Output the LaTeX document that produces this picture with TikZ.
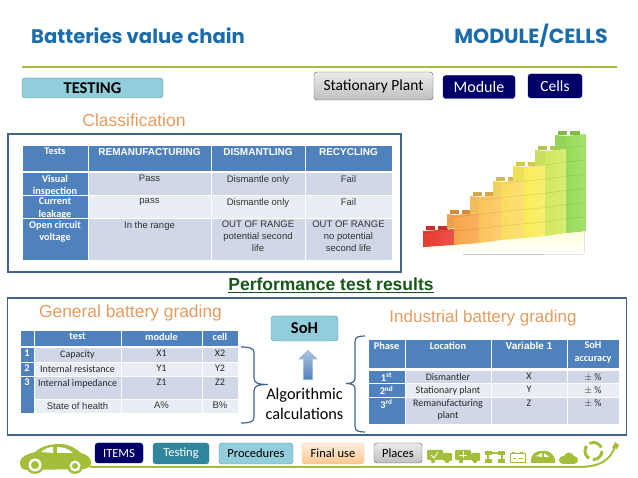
\documentclass[tikz,border=0pt]{standalone}
\usepackage{fontspec}
\setmainfont{Carlito}
\newfontfamily\arialfont{Liberation Sans}
\newfontfamily\titlefont{Poppins}
\usetikzlibrary{shadows, shapes.arrows, positioning}
\definecolor{titleblue}{HTML}{1B6CAB}
\definecolor{limeline}{HTML}{A3BF39}
\definecolor{paleteal}{HTML}{92CDDC}
\definecolor{navybtn}{HTML}{000066}
\definecolor{tealbtn}{HTML}{31859C}
\definecolor{hdblue}{HTML}{4F81BD}
\definecolor{rowdark}{HTML}{D0D8E8}
\definecolor{rowlight}{HTML}{E9EDF4}
\definecolor{framecol}{HTML}{41648F}
\definecolor{headorange}{HTML}{E59B5E}
\definecolor{darkgreen}{HTML}{17561A}
\definecolor{brickA}{HTML}{E8382E}
\definecolor{brickB}{HTML}{F8A546}
\definecolor{brickC}{HTML}{FBC458}
\definecolor{brickD}{HTML}{FBDB5E}
\definecolor{brickE}{HTML}{F9EC58}
\definecolor{brickF}{HTML}{D2E85E}
\definecolor{brickG}{HTML}{96DC56}
\tikzset{
    button/.style = {rounded corners=3pt, inner sep=0pt, font=\fontsize{14}{16}\selectfont},
    navy button/.style = {button, fill=navybtn, draw=navybtn!70!blue, text=white},
    teal button/.style = {button, fill=paleteal, draw=framecol!60!paleteal},
    gray button/.style = {button, top color=white!92!black, bottom color=black!25, draw=black!65},
    frame box/.style = {draw=framecol, line width=1.6pt, inner sep=0pt},
    grading/.style = {text=headorange, font=\arialfont\fontsize{17.4}{20}\selectfont},
    tablecell/.style = {inner sep=0pt, outer sep=0pt},
    celltext/.style = {anchor=north, inner sep=1.5pt, align=center},
    hdrfill/.style = {fill=hdblue},
    rowa/.style = {fill=rowdark},
    rowb/.style = {fill=rowlight},
    hdrarial/.style = {text=white, font=\arialfont\bfseries\fontsize{10}{12}\selectfont},
    bodyarial/.style = {text=black!80, font=\arialfont\fontsize{9.5}{11.7}\selectfont},
    hdrcal/.style = {text=white, font=\bfseries\fontsize{10.3}{12.2}\selectfont},
    bodycal/.style = {text=black!85, font=\fontsize{10}{12}\selectfont},
    brace line/.style = {draw=framecol, line width=1.2pt},
    icon/.style = {fill=limeline, draw=none},
}
% one table cell: name, x0, y0, x1, y1, fill, text style, text
\newcommand{\tcell}[8]{
    \node[tablecell,#6,minimum width={(#4-#2-1)*1pt},minimum height={(#5-#3-1)*1pt}] (#1) at ({(#2+#4)/2},{(#3+#5)/2}) {};
    \node[celltext,#7] at (#1.north) {#8};
}
\begin{document}
\begin{tikzpicture}[x=1pt, y=-1pt]
    \useasboundingbox (0,0) rectangle (638,478);

    % header
    \node (title) [text=titleblue, font=\titlefont\bfseries\fontsize{19.6}{24}\selectfont] at (138,36) {Batteries value chain};
    \node (part) [text=titleblue, font=\titlefont\bfseries\fontsize{20.5}{24}\selectfont] at (531,36) {MODULE/CELLS};
    \coordinate (ruleL) at (22,67);
    \coordinate (ruleR) at (617,67);
    \draw[limeline, line width=2pt] (ruleL) -- (ruleR);

    \node (testing) [teal button, minimum width=141pt, minimum height=20pt, font=\bfseries\fontsize{16.5}{18}\selectfont] at (92.5,88) {TESTING};
    \node (plant) [gray button, minimum width=119pt, minimum height=28pt, font=\fontsize{15.5}{18}\selectfont] at (373.5,86) {Stationary Plant};
    \node (module) [navy button, minimum width=72pt, minimum height=23pt, font=\fontsize{16}{18}\selectfont] at (479,87) {Module};
    \node (cells) [navy button, minimum width=54pt, minimum height=24pt, font=\fontsize{15.5}{18}\selectfont] at (555,86) {Cells};

    % classification
    \node (classif) [grading, font=\arialfont\fontsize{17.5}{20}\selectfont] at (134,120) {Classification};
    \node (box1) [frame box, minimum width=393pt, minimum height=138pt] at (204.5,203) {};
    \tcell{a00}{22}{146}{88}{172}{hdrfill}{hdrcal}{Tests}
    \tcell{a01}{88}{146}{211}{172}{hdrfill}{hdrarial}{REMANUFACTURING}
    \tcell{a02}{211}{146}{305}{172}{hdrfill}{hdrarial}{DISMANTLING}
    \tcell{a03}{305}{146}{392}{172}{hdrfill}{hdrarial}{RECYCLING}
    \tcell{a10}{22}{173}{88}{196}{hdrfill}{hdrcal}{Visual\\inspection}
    \tcell{a11}{88}{173}{211}{196}{rowa}{bodyarial}{Pass}
    \tcell{a12}{211}{173}{305}{196}{rowa}{bodyarial}{Dismantle only}
    \tcell{a13}{305}{173}{392}{196}{rowa}{bodyarial}{Fail}
    \tcell{a20}{22}{196}{88}{219}{hdrfill}{hdrcal}{Current\\leakage}
    \tcell{a21}{88}{196}{211}{219}{rowb}{bodyarial}{pass}
    \tcell{a22}{211}{196}{305}{219}{rowb}{bodyarial}{Dismantle only}
    \tcell{a23}{305}{196}{392}{219}{rowb}{bodyarial}{Fail}
    \tcell{a30}{22}{219}{88}{261}{hdrfill}{hdrcal}{Open circuit\\voltage}
    \tcell{a31}{88}{219}{211}{261}{rowa}{bodyarial}{In the range}
    \tcell{a32}{211}{219}{305}{261}{rowa}{bodyarial}{OUT OF RANGE\\potential second\\life}
    \tcell{a33}{305}{219}{392}{261}{rowa}{bodyarial}{OUT OF RANGE\\no potential\\second life}

    % stacked bricks
    \fill[top color=yellow!14, bottom color=white] (423,247) -- (584,231) -- (584,254) -- (423,255) -- cycle;
    \foreach \xl/\xm/\xr/\ytop/\yl/\yr/\clr/\yprev in {
        423/423/454/229/247/245/brickA/229,
        447/454/479/213/245/243/brickB/226,
        470/479/501/195/243/240/brickC/211,
        493/501/524/180/240/238/brickD/193,
        513/524/545/165/238/236/brickE/178,
        535/545/566/149/236/233/brickF/163,
        555/566/586/134/233/231/brickG/147}{
        \fill[\clr!90!gray] (\xl,\ytop+1) -- (\xm,\ytop+2) -- (\xm,\yprev+2) -- (\xl,\yprev+3) -- cycle;
        \begin{scope}
            \clip (\xm,\ytop+2) -- (\xr,\ytop) -- (\xr,\yr) -- (\xm,\yl) -- cycle;
            \shade[left color=\clr, right color=\clr!85!white] (\xm-1,\ytop-3) rectangle (\xr+1,\yl+1);
            \foreach \k in {1,...,7}
                \draw[black, opacity=.1, line width=.6pt] (\xm,\yl-\k*14.2) -- (\xr,\yr-\k*14.2);
        \end{scope}
        \fill[\clr!85!black] (\xl+3,\ytop-3) rectangle (\xl+12,\ytop+1);
        \fill[\clr!85!black] (\xl+15,\ytop-3) rectangle (\xl+25,\ytop+1);
    }

    \node (perf) [text=darkgreen, font=\arialfont\bfseries\fontsize{17.5}{20}\selectfont] at (331,284) {Performance test results};
    \coordinate (perfL) at (228,292.5);
    \coordinate (perfR) at (434,292.5);
    \draw[darkgreen, line width=1.2pt] (perfL) -- (perfR);

    % grading frame
    \node (box2) [frame box, minimum width=619pt, minimum height=137pt] at (317,366.5) {};
    \node (general) [grading] at (130.5,313) {General battery grading};
    \node (industrial) [grading, font=\arialfont\fontsize{17}{20}\selectfont] at (483,318) {Industrial battery grading};

    \tcell{b00}{20}{331}{34}{346.5}{hdrfill}{hdrcal}{}
    \tcell{b01}{34}{331}{121}{346.5}{hdrfill}{hdrcal}{test}
    \tcell{b02}{121}{331}{202}{346.5}{hdrfill}{hdrcal}{module}
    \tcell{b03}{202}{331}{238}{346.5}{hdrfill}{hdrcal}{cell}
    \tcell{b10}{20}{348}{34}{363}{hdrfill}{hdrcal}{1}
    \tcell{b11}{34}{348}{121}{363}{rowa}{bodycal}{Capacity}
    \tcell{b12}{121}{348}{202}{363}{rowa}{bodycal}{X1}
    \tcell{b13}{202}{348}{238}{363}{rowa}{bodycal}{X2}
    \tcell{b20}{20}{363}{34}{377}{hdrfill}{hdrcal}{2}
    \tcell{b21}{34}{363}{121}{377}{rowb}{bodycal}{Internal resistance}
    \tcell{b22}{121}{363}{202}{377}{rowb}{bodycal}{Y1}
    \tcell{b23}{202}{363}{238}{377}{rowb}{bodycal}{Y2}
    \tcell{b30}{20}{377}{34}{414}{hdrfill}{hdrcal}{3}
    \tcell{b31}{34}{377}{121}{400}{rowa}{bodycal}{Internal impedance}
    \tcell{b32}{121}{377}{202}{400}{rowa}{bodycal}{Z1}
    \tcell{b33}{202}{377}{238}{400}{rowa}{bodycal}{Z2}
    \tcell{b41}{34}{400}{121}{414}{rowb}{bodyarial}{State of health}
    \tcell{b42}{121}{400}{202}{414}{rowb}{bodyarial}{A\%}
    \tcell{b43}{202}{400}{238}{414}{rowb}{bodyarial}{B\%}

    \tcell{c00}{368}{340}{405}{369}{hdrfill}{hdrcal}{Phase}
    \tcell{c01}{405}{340}{491}{369}{hdrfill}{hdrcal}{Location}
    \tcell{c02}{491}{340}{567}{369}{hdrfill}{hdrarial}{Variable 1}
    \tcell{c03}{567}{340}{619}{369}{hdrfill}{hdrcal}{SoH\\accuracy}
    \tcell{c10}{368}{371}{405}{384}{hdrfill}{hdrcal}{1\textsuperscript{st}}
    \tcell{c11}{405}{371}{491}{384}{rowa}{bodycal}{Dismantler}
    \tcell{c12}{491}{371}{567}{384}{rowa}{bodycal}{X}
    \tcell{c13}{567}{371}{619}{384}{rowa}{bodycal}{$\pm$ \%}
    \tcell{c20}{368}{384}{405}{397.5}{hdrfill}{hdrcal}{2\textsuperscript{nd}}
    \tcell{c21}{405}{384}{491}{397.5}{rowb}{bodycal}{Stationary plant}
    \tcell{c22}{491}{384}{567}{397.5}{rowb}{bodycal}{Y}
    \tcell{c23}{567}{384}{619}{397.5}{rowb}{bodycal}{$\pm$ \%}
    \tcell{c30}{368}{397.5}{405}{425}{hdrfill}{hdrcal}{3\textsuperscript{rd}}
    \tcell{c31}{405}{397.5}{491}{425}{rowa}{bodycal}{Remanufacturing\\plant}
    \tcell{c32}{491}{397.5}{567}{425}{rowa}{bodycal}{Z}
    \tcell{c33}{567}{397.5}{619}{425}{rowa}{bodycal}{$\pm$ \%}

    \node (soh) [teal button, minimum width=67pt, minimum height=25pt, font=\bfseries\fontsize{16.5}{18}\selectfont] at (304.5,328.5) {SoH};
    \node (algo) [align=center, font=\fontsize{16.3}{19.5}\selectfont] at (304.5,404) {Algorithmic\\calculations};
    \node (uparrow) [single arrow, shape border rotate=90, draw=none, inner sep=4.5pt, minimum width=19pt, minimum height=30pt, single arrow head extend=5pt, single arrow tip angle=90, top color=hdblue!45, bottom color=hdblue] at (308,367) {};
    \coordinate (ltop) at (241,347);
    \coordinate (ltip) at (268,384.5);
    \coordinate (lbot) at (241,423);
    \coordinate (rtop) at (365,336);
    \coordinate (rtip) at (346,383.5);
    \coordinate (rbot) at (365,432);
    \draw[brace line] (ltop) .. controls (250,347) and (254,348) .. (254,353) -- (254,378) .. controls (254,383) and (258,384.5) .. (ltip) .. controls (258,384.5) and (254,386) .. (254,391) -- (254,417) .. controls (254,422) and (250,423) .. (lbot);
    \draw[brace line] (rtop) .. controls (358,336) and (355,337) .. (355,342) -- (355,378) .. controls (355,382) and (352,383.5) .. (rtip) .. controls (352,383.5) and (355,385) .. (355,389) -- (355,426) .. controls (355,431) and (358,432) .. (rbot);

    % footer
    \coordinate (footL) at (90,467);
    \coordinate (footM) at (578,467);
    \coordinate (footR) at (615,446);
    \draw[limeline, line width=2pt] (footL) -- (footM) .. controls (600,467) and (611,460) .. (footR);
    \node (items) [navy button, minimum width=48pt, minimum height=20pt, font=\fontsize{12.5}{14}\selectfont] at (119,453) {ITEMS};
    \node (test2) [button, fill=tealbtn, draw=tealbtn, text=white, minimum width=56pt, minimum height=21pt, font=\fontsize{12.5}{14}\selectfont] at (181,453.5) {Testing};
    \node (proc) [teal button, minimum width=74pt, minimum height=21pt, font=\fontsize{12.5}{14}\selectfont] at (256,453.5) {Procedures};
    \node (final) [button, top color=orange!12, bottom color=orange!45, draw=orange!50, minimum width=62pt, minimum height=21pt, font=\fontsize{12.5}{14}\selectfont] at (333,453.5) {Final use};
    \node (places) [gray button, minimum width=48pt, minimum height=20pt, font=\fontsize{12.5}{14}\selectfont] at (398,453) {Places};

    % car
    \fill[limeline] (20,463) .. controls (20,456) and (28,454) .. (35,452) .. controls (42,446) and (50,444) .. (60,444) .. controls (70,444) and (76,449) .. (81,453) .. controls (88,455) and (91,458) .. (91,463) .. controls (91,467) and (88,468) .. (84,469) -- (28,470) .. controls (23,470) and (20,468) .. (20,463) -- cycle;
    \fill[white] (41,452) .. controls (46,448) and (50,447) .. (53,447) -- (53,453) -- cycle;
    \fill[white] (57,447) .. controls (63,447) and (69,449) .. (73,453) -- (57,453) -- cycle;
    \foreach \wx/\wy/\wr in {35/465/9, 75/466/8} {
        \fill[limeline] (\wx,\wy) circle (\wr);
        \fill[white] (\wx,\wy) circle (\wr-2.5);
        \fill[limeline] (\wx,\wy) circle (\wr-5);
    }
    % small icons
    \foreach \tx in {427,455} {
        \fill[icon, rounded corners=1pt] (\tx,450) rectangle (\tx+16,460);
        \fill[icon, rounded corners=1pt] (\tx+16,453) rectangle (\tx+25,461);
        \fill[limeline] (\tx+6,461) circle (2.2);
        \fill[limeline] (\tx+20,461) circle (2.2);
    }
    \draw[white, line width=.9pt] (431,455) -- (434,458) -- (438,452);
    \draw[white, line width=.9pt] (459,455) -- (467,455) (463,451.5) -- (463,458.5);
    \fill[icon] (485,451) rectangle (492,455);
    \fill[icon] (498,451) rectangle (505,455);
    \fill[icon] (485,459) rectangle (492,463);
    \fill[icon] (498,459) rectangle (505,463);
    \draw[limeline, line width=1.2pt] (488,455) -- (488,459) (502,455) -- (502,459) (492,453) -- (498,453);
    \draw[limeline, line width=1pt] (510,454) rectangle (525,463);
    \draw[limeline, line width=1pt] (512,452.5) -- (515,452.5) (520,452.5) -- (523,452.5) (513,458.5) -- (516,458.5) (519,458.5) -- (523,458.5);
    \fill[limeline] (531,460) .. controls (531,455) and (535,451) .. (541,451) -- (546,451) .. controls (550,451) and (555,456) .. (555,460) -- (555,463) -- (531,463) -- cycle;
    \fill[white] (536,456) -- (542,453) -- (542,457) -- cycle;
    \fill[white] (544,453) -- (549,457) -- (544,457) -- cycle;
    \begin{scope}
        \clip (556,448) rectangle (580,463.5);
        \fill[limeline] (563,460) circle (4);
        \fill[limeline] (569,458) circle (5.5);
        \fill[limeline] (574,460) circle (4);
        \fill[limeline] (563,459) rectangle (574,467);
    \end{scope}
    \draw[limeline, line width=3pt, dash pattern=on 14pt off 3.8pt] (593.5,451) circle (8.5);
    \fill[limeline] (612,448) -- (615,442) -- (619,445) -- (617,449) -- cycle;
\end{tikzpicture}
\end{document}
